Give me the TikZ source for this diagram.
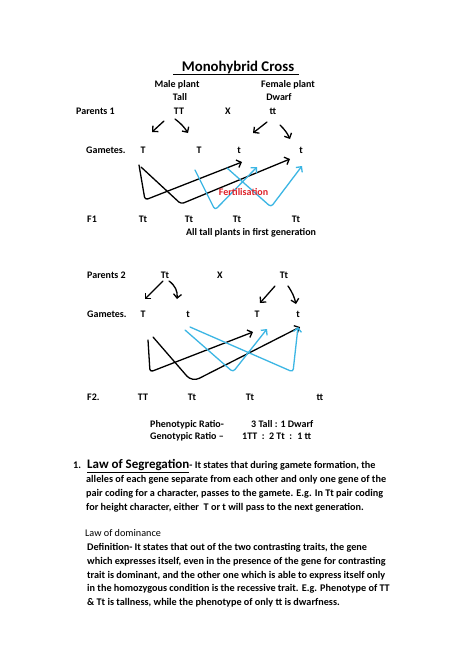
\documentclass[tikz,border=0pt]{standalone}
\usepackage{fontspec}
\setmainfont{Carlito}
\usetikzlibrary{arrows.meta}
\definecolor{sky}{RGB}{60,182,228}
\definecolor{fert}{RGB}{222,32,40}
\begin{document}
\begin{tikzpicture}[x=1pt,y=-1pt,
  txt/.style={font=\fontsize{10}{12}\selectfont\bfseries, inner sep=0pt, anchor=base},
  txtl/.style={txt, anchor=base west},
  body/.style={font=\fontsize{10.2}{12}\selectfont\bfseries, inner sep=0pt, anchor=base west},
  big/.style={font=\fontsize{14.8}{16}\selectfont\bfseries, inner sep=0pt, anchor=base},
  hand/.style={line width=1.3pt, line cap=round, line join=round, -{Straight Barb[length=4pt,width=8pt,line width=1.3pt]}},
  blk/.style={hand, black, rounded corners=3pt},
  blu/.style={hand, sky, rounded corners=3pt}]
\useasboundingbox (0,0) rectangle (474,670);
\fill[white] (0,0) rectangle (474,670);

% title
\node[big] (title) at (238,71.5) {Monohybrid Cross};
\draw[line width=0.9pt] (173,74) -- (299,74);

\node[txt] (male) at (177,87.5) {Male plant};
\node[txt] (female) at (288,87.5) {Female plant};
\node[txt] (tall) at (180,100.5) {Tall};
\node[txt] (dwarf) at (279,100.5) {Dwarf};

% parents 1
\node[txtl] (p1) at (76,114.5) {Parents 1};
\node[txt] (TT) at (179,114.5) {TT};
\node[txt] (x1) at (228,114.5) {X};
\node[txt] (tt) at (273,114.5) {tt};

\coordinate (a1s) at (164,121); \coordinate (a1e) at (152,132);
\coordinate (a2s) at (175,119); \coordinate (a2e) at (188,133);
\coordinate (a3s) at (267,122); \coordinate (a3e) at (253,133);
\coordinate (a4s) at (280,125); \coordinate (a4e) at (290,139);
\draw[hand] (a1s) -- (a1e);
\draw[hand] (a2s) to[bend left=10] (a2e);
\draw[hand] (a3s) -- (a3e);
\draw[hand] (a4s) to[bend left=10] (a4e);

% gametes 1
\node[txtl] (gam1) at (86,153.5) {Gametes.};
\node[txt] (g1a) at (143,153.5) {T};
\node[txt] (g1b) at (199,153.5) {T};
\node[txt] (g1c) at (239,153.5) {t};
\node[txt] (g1d) at (301,153.5) {t};

\coordinate (l1s) at (139,165); \coordinate (l1m) at (145,200); \coordinate (l1e) at (242,162);
\coordinate (l2s) at (141,167); \coordinate (l2m) at (181,204); \coordinate (l2e) at (290,159);
\coordinate (b1s) at (195,170); \coordinate (b1m) at (215,210); \coordinate (b1e) at (257,167);
\coordinate (b2s) at (227,168); \coordinate (b2m) at (271,207); \coordinate (b2e) at (302,166);
\draw[blk] (l1s) -- (l1m) -- (l1e);
\draw[blk] (l2s) -- (l2m) -- (l2e);
\draw[blu] (b1s) -- (b1m) -- (b1e);
\draw[blu] (b2s) -- (b2m) -- (b2e);

\node[txt, text=fert] (fert) at (243.5,195.5) {Fertilisation};

% F1
\node[txtl] (f1) at (87,222.5) {F1};
\node[txt] (f1a) at (143,222.5) {Tt};
\node[txt] (f1b) at (189,222.5) {Tt};
\node[txt] (f1c) at (237,222.5) {Tt};
\node[txt] (f1d) at (296,222.5) {Tt};
\node[txt] (alltall) at (251,235.5) {All tall plants in first generation};

% parents 2
\node[txtl] (p2) at (87,278.5) {Parents 2};
\node[txt] (Tt1) at (165,278.5) {Tt};
\node[txt] (x2) at (220,278.5) {X};
\node[txt] (Tt2) at (284,278.5) {Tt};

\coordinate (c1s) at (163,281); \coordinate (c1e) at (145,299);
\coordinate (c2s) at (169,281); \coordinate (c2e) at (177,299);
\coordinate (c3s) at (275,286); \coordinate (c3e) at (260,303);
\coordinate (c4s) at (288,286); \coordinate (c4e) at (296,304);
\draw[hand] (c1s) -- (c1e);
\draw[hand] (c2s) to[bend left=30] (c2e);
\draw[hand] (c3s) -- (c3e);
\draw[hand] (c4s) to[bend left=10] (c4e);

% gametes 2
\node[txtl] (gam2) at (87,317.5) {Gametes.};
\node[txt] (g2a) at (143,317.5) {T};
\node[txt] (g2b) at (188,317.5) {t};
\node[txt] (g2c) at (257,317.5) {T};
\node[txt] (g2d) at (298,317.5) {t};

\coordinate (l3s) at (148,340); \coordinate (l3m) at (150,372); \coordinate (l3e) at (253,332);
\coordinate (l4s) at (153,337); \coordinate (l4m) at (192,382); \coordinate (l4e) at (300,327);
\coordinate (b3s) at (185,330); \coordinate (b3m) at (233,372); \coordinate (b3e) at (267,329);
\coordinate (b4s) at (190,327); \coordinate (b4m) at (293,372); \coordinate (b4e) at (298,327);
\draw[blk] (l3s) -- (l3m) -- (l3e);
\draw[blk, rounded corners=8pt] (l4s) -- (l4m) -- (l4e);
\draw[blu] (b3s) -- (b3m) -- (b3e);
\draw[blu] (b4s) -- (b4m) -- (b4e);

% F2
\node[txtl] (f2) at (87,400.5) {F2.};
\node[txt] (f2a) at (143,400.5) {TT};
\node[txt] (f2b) at (192,400.5) {Tt};
\node[txt] (f2c) at (250,400.5) {Tt};
\node[txt] (f2d) at (320,400.5) {tt};

% ratios
\node[txtl] (pheno) at (150,427.5) {Phenotypic Ratio-};
\node[txtl] (phenor) at (251,427.5) {3 Tall : 1 Dwarf};
\node[txtl] (geno) at (150,439.5) {Genotypic Ratio –};
\node[txtl] (genor) at (242,439.5) {1TT \ : \ 2 Tt \ : \ 1 tt};

% law of segregation
\node[body] (num) at (73,468.5) {1.};
\node[body] (s1) at (87,468.5) {{\fontsize{13}{15}\selectfont\underline{Law of Segregation}}- It states that during gamete formation, the};
\node[body] (s2) at (86,482) {alleles of each gene separate from each other and only one gene of the};
\node[body] (s3) at (86,496.5) {pair coding for a character, passes to the gamete. E.g. In Tt pair coding};
\node[body] (s4) at (86,510.5) {for height character, either \ T or t will pass to the next generation.};

% law of dominance
\node[body, font=\fontsize{10.2}{12}\selectfont] (dom) at (85,536.5) {Law of dominance};
\node[body] (d1) at (87,550.5) {Definition- It states that out of the two contrasting traits, the gene};
\node[body] (d2) at (87,564.5) {which expresses itself, even in the presence of the gene for contrasting};
\node[body] (d3) at (87,578) {trait is dominant, and the other one which is able to express itself only};
\node[body] (d4) at (87,591.5) {in the homozygous condition is the recessive trait. E.g. Phenotype of TT};
\node[body] (d5) at (87,605.5) {\& Tt is tallness, while the phenotype of only tt is dwarfness.};
\end{tikzpicture}
\end{document}
